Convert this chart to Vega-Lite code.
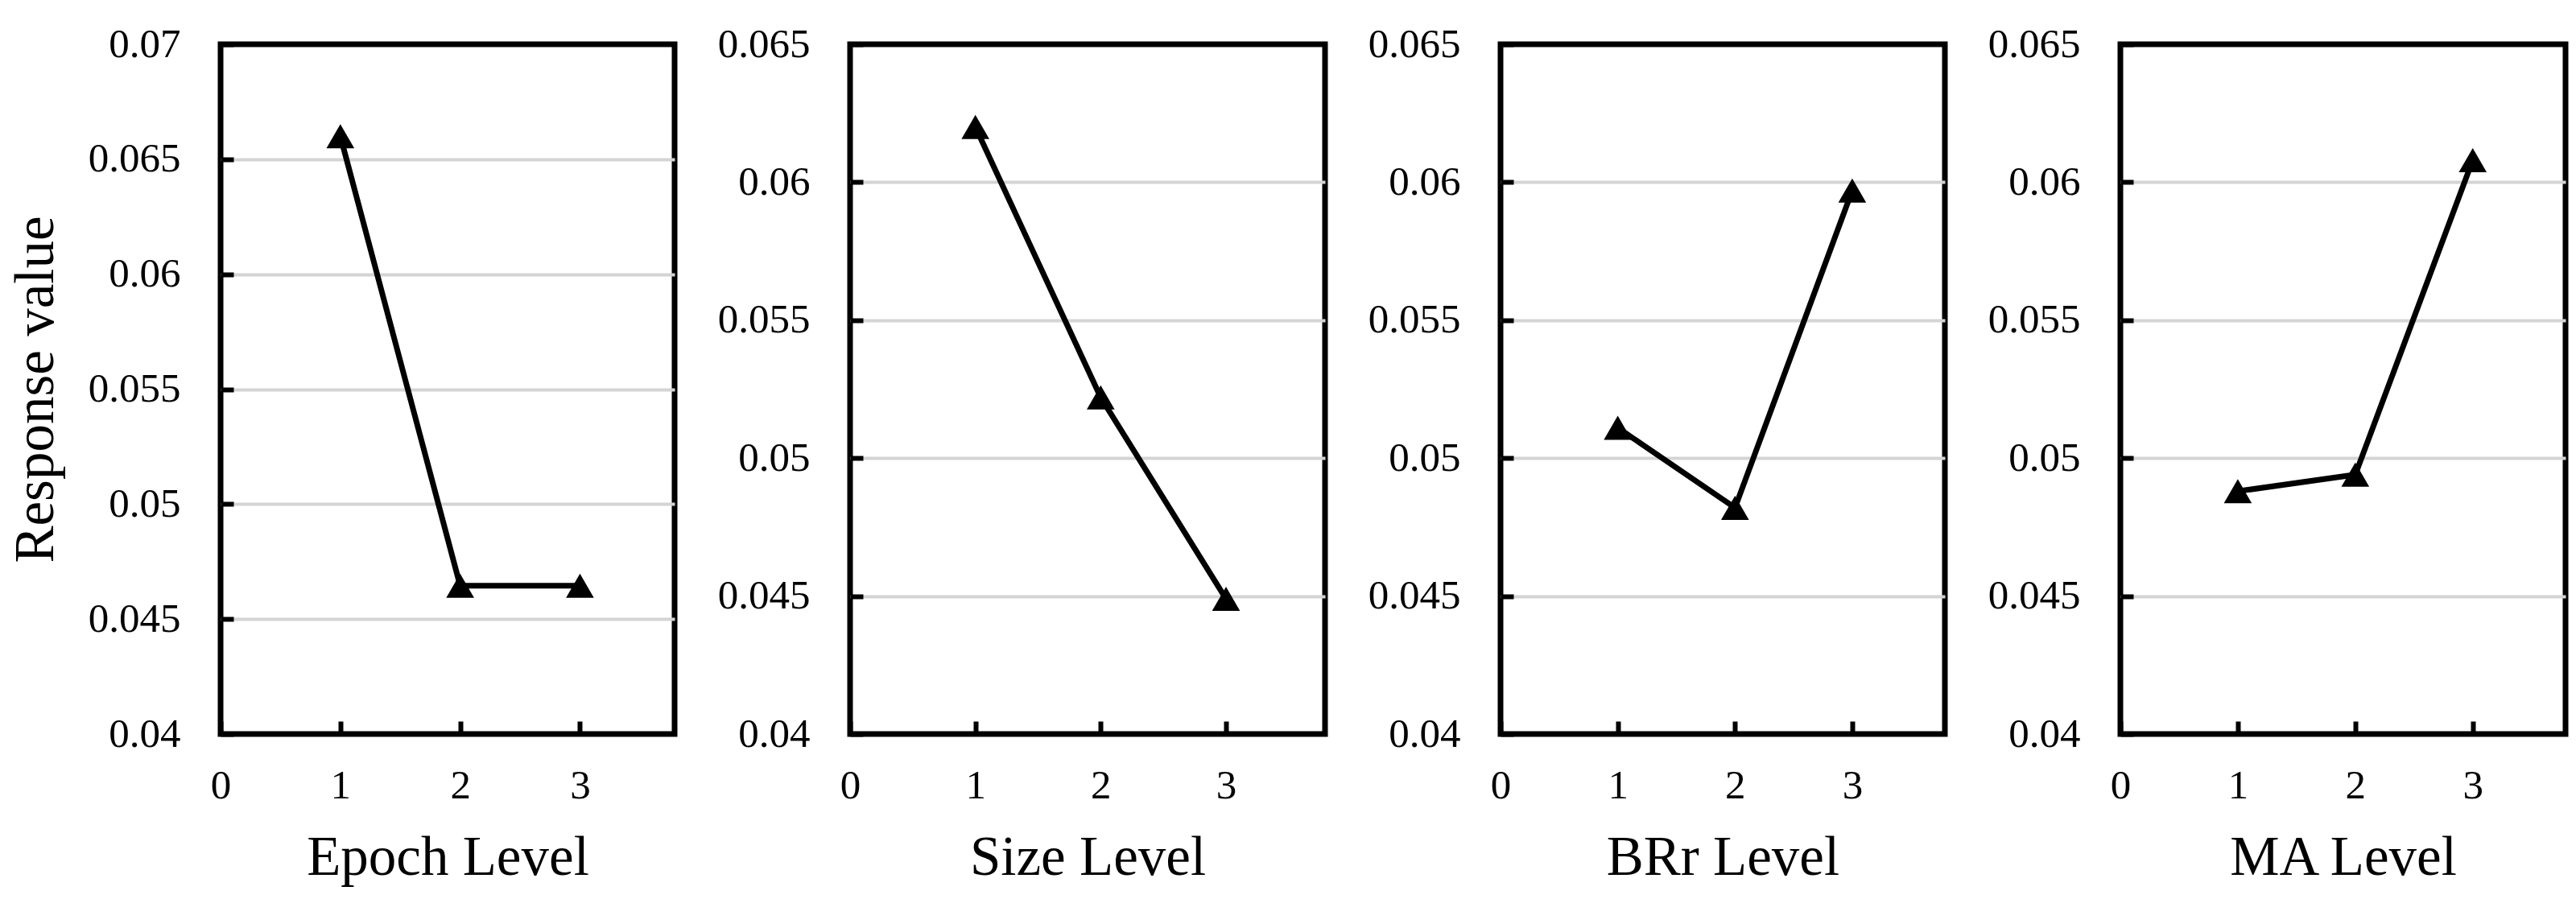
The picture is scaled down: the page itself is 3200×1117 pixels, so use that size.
{
  "$schema": "https://vega.github.io/schema/vega-lite/v6.json",
  "background": "white",
  "padding": {"left": 6, "top": 25, "right": 5, "bottom": 5},
  "bounds": "flush",
  "spacing": 218,
  "data": {"values": [
    {"factor": "Epoch", "level": 1, "value": 0.0660},
    {"factor": "Epoch", "level": 2, "value": 0.04645},
    {"factor": "Epoch", "level": 3, "value": 0.04645},
    {"factor": "Size", "level": 1, "value": 0.0620},
    {"factor": "Size", "level": 2, "value": 0.0522},
    {"factor": "Size", "level": 3, "value": 0.0449},
    {"factor": "BRr", "level": 1, "value": 0.0511},
    {"factor": "BRr", "level": 2, "value": 0.0482},
    {"factor": "BRr", "level": 3, "value": 0.0597},
    {"factor": "MA", "level": 1, "value": 0.0488},
    {"factor": "MA", "level": 2, "value": 0.0494},
    {"factor": "MA", "level": 3, "value": 0.0608}
  ]},
  "hconcat": [
    {
      "width": 564, "height": 857,
      "transform": [{"filter": "datum.factor === 'Epoch'"}],
      "encoding": {
        "x": {"field": "level", "type": "quantitative", "scale": {"domain": [0, 3.79], "nice": false, "zero": false}, "axis": {"values": [0, 1, 2, 3], "format": "d", "title": "Epoch Level"}},
        "y": {"field": "value", "type": "quantitative", "scale": {"domain": [0.04, 0.07], "nice": false, "zero": false}, "axis": {"values": [0.04, 0.045, 0.05, 0.055, 0.06, 0.065, 0.07], "format": "~g", "title": "Response value", "gridOpacity": {"condition": {"test": "datum.value < 0.0449 || datum.value > 0.0696", "value": 0}, "value": 1}}}
      },
      "layer": [
        {"mark": {"type": "line", "color": "black", "strokeWidth": 7}},
        {"mark": {"type": "point", "shape": "triangle-up", "filled": true, "color": "black", "opacity": 1, "size": 1200}}
      ]
    },
    {
      "width": 590, "height": 857,
      "transform": [{"filter": "datum.factor === 'Size'"}],
      "encoding": {
        "x": {"field": "level", "type": "quantitative", "scale": {"domain": [0, 3.79], "nice": false, "zero": false}, "axis": {"values": [0, 1, 2, 3], "format": "d", "title": "Size Level"}},
        "y": {"field": "value", "type": "quantitative", "scale": {"domain": [0.04, 0.065], "nice": false, "zero": false}, "axis": {"values": [0.04, 0.045, 0.05, 0.055, 0.06, 0.065], "format": "~g", "title": null, "gridOpacity": {"condition": {"test": "datum.value < 0.0449 || datum.value > 0.0646", "value": 0}, "value": 1}}}
      },
      "layer": [
        {"mark": {"type": "line", "color": "black", "strokeWidth": 7}},
        {"mark": {"type": "point", "shape": "triangle-up", "filled": true, "color": "black", "opacity": 1, "size": 1200}}
      ]
    },
    {
      "width": 552, "height": 857,
      "transform": [{"filter": "datum.factor === 'BRr'"}],
      "encoding": {
        "x": {"field": "level", "type": "quantitative", "scale": {"domain": [0, 3.79], "nice": false, "zero": false}, "axis": {"values": [0, 1, 2, 3], "format": "d", "title": "BRr Level"}},
        "y": {"field": "value", "type": "quantitative", "scale": {"domain": [0.04, 0.065], "nice": false, "zero": false}, "axis": {"values": [0.04, 0.045, 0.05, 0.055, 0.06, 0.065], "format": "~g", "title": null, "gridOpacity": {"condition": {"test": "datum.value < 0.0449 || datum.value > 0.0646", "value": 0}, "value": 1}}}
      },
      "layer": [
        {"mark": {"type": "line", "color": "black", "strokeWidth": 7}},
        {"mark": {"type": "point", "shape": "triangle-up", "filled": true, "color": "black", "opacity": 1, "size": 1200}}
      ]
    },
    {
      "width": 553, "height": 857,
      "transform": [{"filter": "datum.factor === 'MA'"}],
      "encoding": {
        "x": {"field": "level", "type": "quantitative", "scale": {"domain": [0, 3.79], "nice": false, "zero": false}, "axis": {"values": [0, 1, 2, 3], "format": "d", "title": "MA Level"}},
        "y": {"field": "value", "type": "quantitative", "scale": {"domain": [0.04, 0.065], "nice": false, "zero": false}, "axis": {"values": [0.04, 0.045, 0.05, 0.055, 0.06, 0.065], "format": "~g", "title": null, "gridOpacity": {"condition": {"test": "datum.value < 0.0449 || datum.value > 0.0646", "value": 0}, "value": 1}}}
      },
      "layer": [
        {"mark": {"type": "line", "color": "black", "strokeWidth": 7}},
        {"mark": {"type": "point", "shape": "triangle-up", "filled": true, "color": "black", "opacity": 1, "size": 1200}}
      ]
    }
  ],
  "config": {
    "view": {"stroke": "black", "strokeWidth": 7},
    "axis": {
      "labelFont": "Liberation Serif", "labelFontSize": 51, "labelColor": "black", "labelFlush": false,
      "titleFont": "Liberation Serif", "titleFontSize": 69, "titleFontWeight": "normal", "titleColor": "black",
      "domain": false, "ticks": true, "tickColor": "black", "tickWidth": 6, "tickSize": -16,
      "gridColor": "#d4d4d4", "gridWidth": 4
    },
    "axisX": {"grid": false, "labelPadding": 55, "titlePadding": 30},
    "axisY": {"grid": true, "labelPadding": 66, "titlePadding": 30}
  }
}
